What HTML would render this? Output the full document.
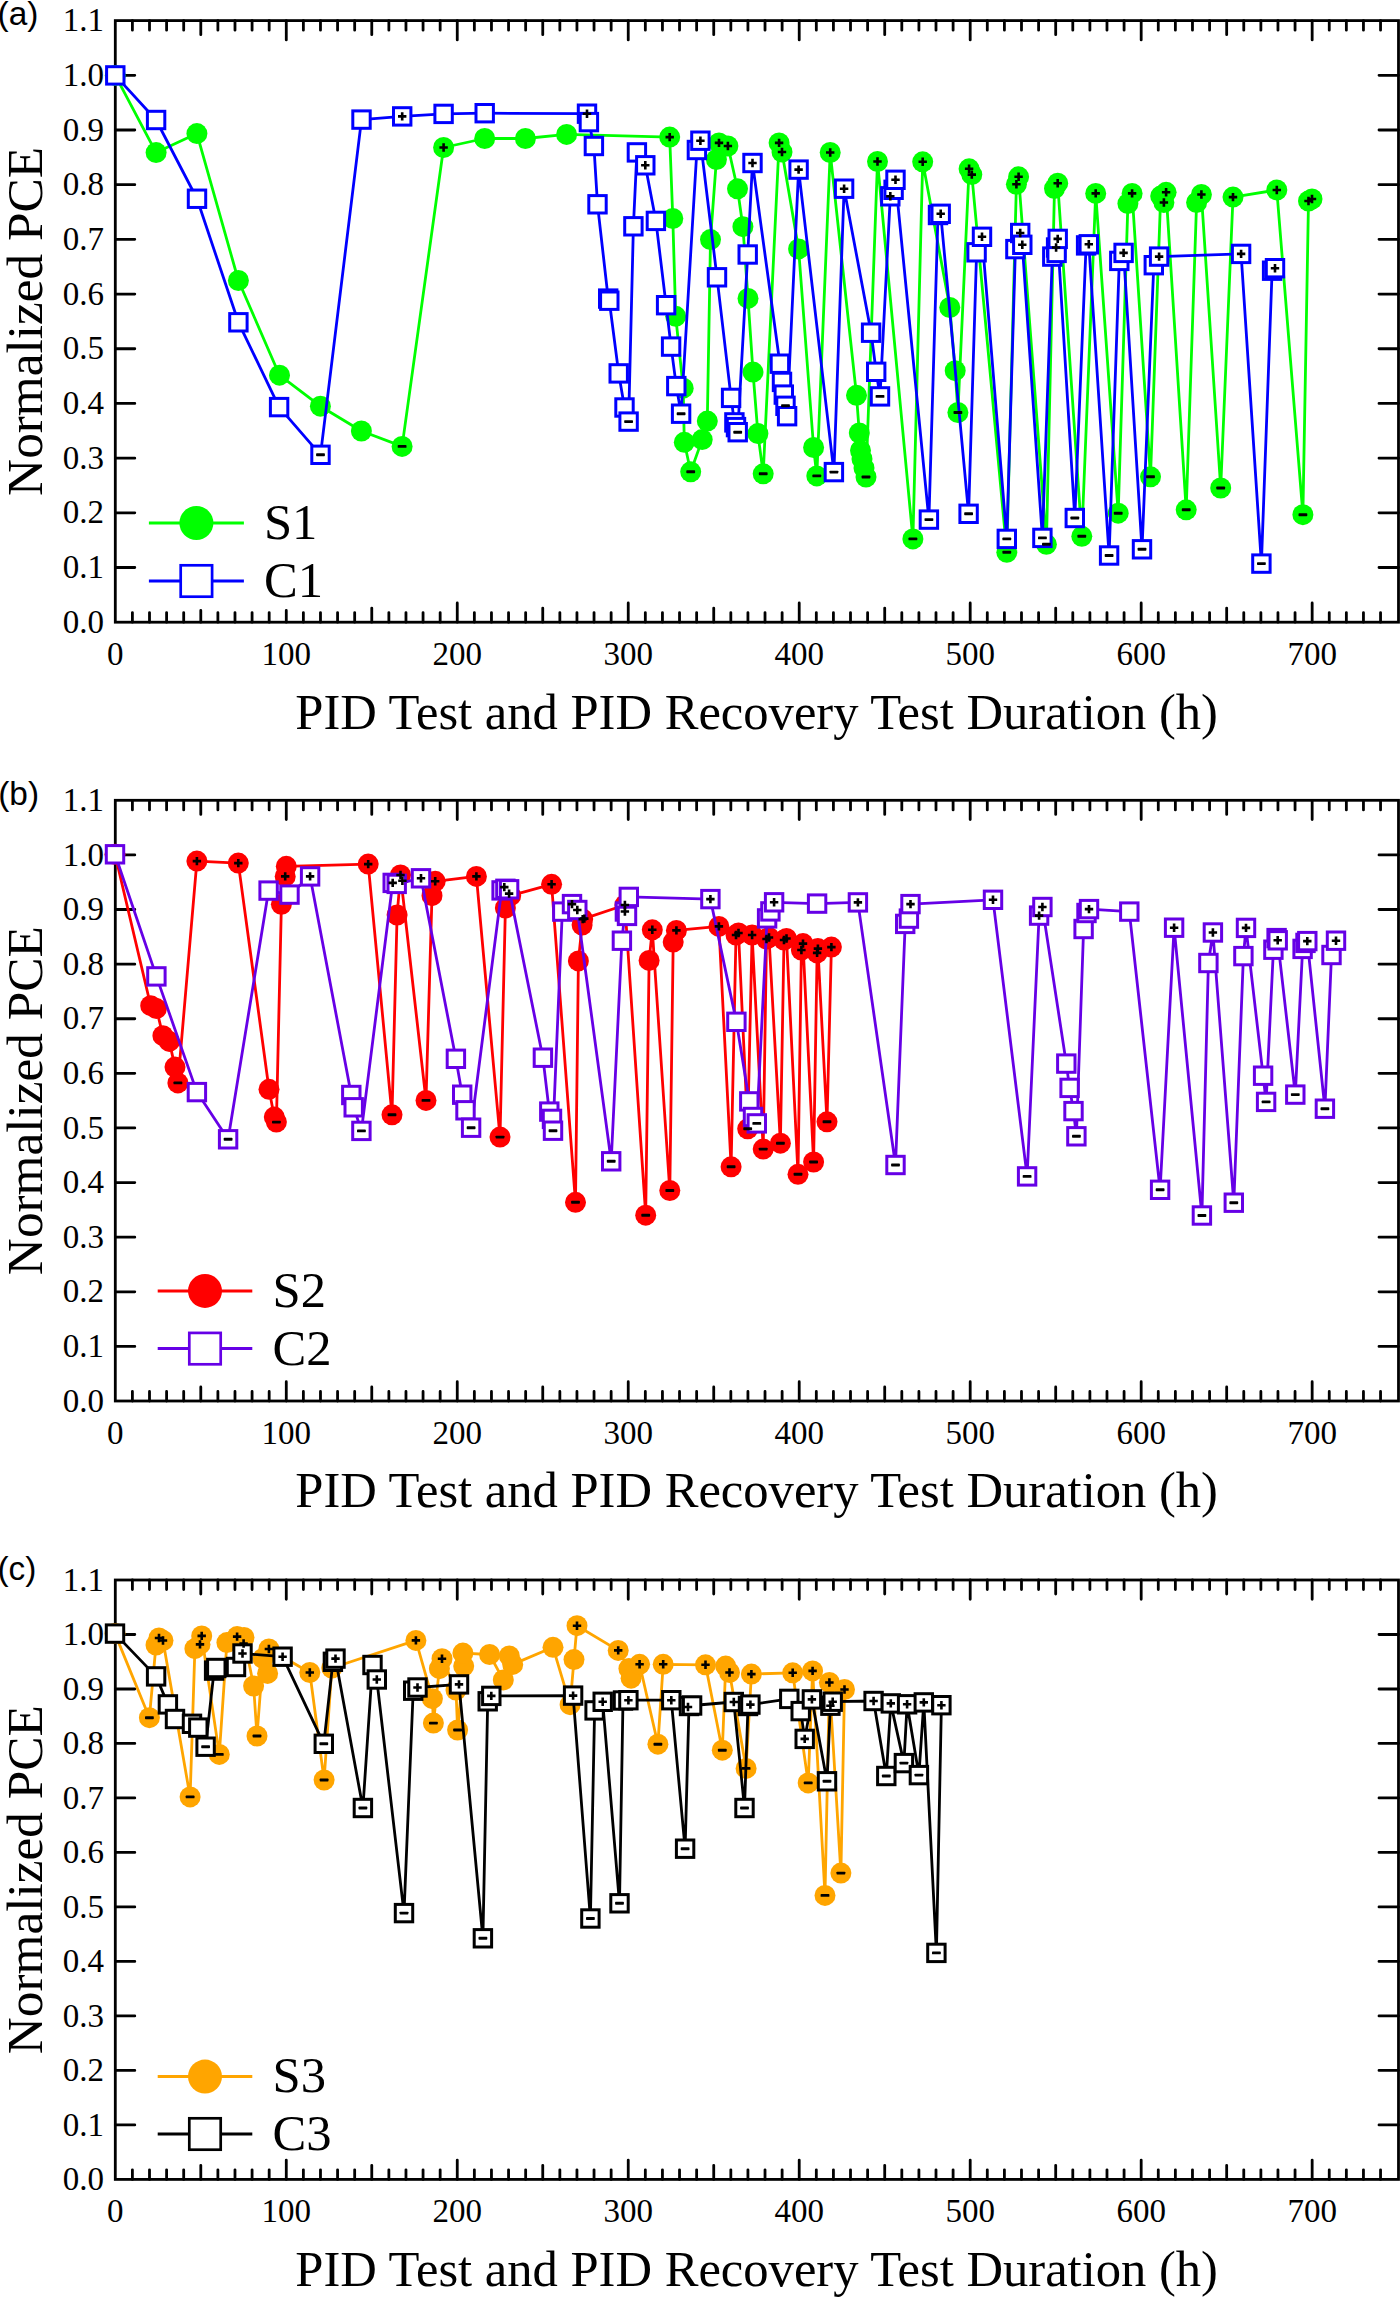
<!DOCTYPE html><html><head><meta charset="utf-8"><style>html,body{margin:0;padding:0;background:#fff;width:1400px;height:2298px;overflow:hidden}svg{display:block}.sf{font-family:"Liberation Serif",serif}.ss{font-family:"Liberation Sans",sans-serif}</style></head><body>
<svg xmlns="http://www.w3.org/2000/svg" width="1400" height="2298" viewBox="0 0 1400 2298">
<rect width="1400" height="2298" fill="#fff"/>
<path d="M132.4 20.6V30.2M132.4 622.2V612.6M149.5 20.6V30.2M149.5 622.2V612.6M166.59 20.6V30.2M166.59 622.2V612.6M183.69 20.6V30.2M183.69 622.2V612.6M200.79 20.6V34.7M200.79 622.2V610.4M217.89 20.6V30.2M217.89 622.2V612.6M234.99 20.6V30.2M234.99 622.2V612.6M252.08 20.6V30.2M252.08 622.2V612.6M269.18 20.6V30.2M269.18 622.2V612.6M286.28 20.6V39.9M286.28 622.2V610.4M303.38 20.6V30.2M303.38 622.2V612.6M320.48 20.6V30.2M320.48 622.2V612.6M337.57 20.6V30.2M337.57 622.2V612.6M354.67 20.6V30.2M354.67 622.2V612.6M371.77 20.6V34.7M371.77 622.2V608.1M388.87 20.6V30.2M388.87 622.2V612.6M405.97 20.6V30.2M405.97 622.2V612.6M423.06 20.6V30.2M423.06 622.2V612.6M440.16 20.6V30.2M440.16 622.2V612.6M457.26 20.6V39.9M457.26 622.2V602.9M474.36 20.6V30.2M474.36 622.2V612.6M491.46 20.6V30.2M491.46 622.2V612.6M508.55 20.6V30.2M508.55 622.2V612.6M525.65 20.6V30.2M525.65 622.2V612.6M542.75 20.6V34.7M542.75 622.2V608.1M559.85 20.6V30.2M559.85 622.2V612.6M576.95 20.6V30.2M576.95 622.2V612.6M594.04 20.6V30.2M594.04 622.2V612.6M611.14 20.6V30.2M611.14 622.2V612.6M628.24 20.6V39.9M628.24 622.2V602.9M645.34 20.6V30.2M645.34 622.2V612.6M662.44 20.6V30.2M662.44 622.2V612.6M679.53 20.6V30.2M679.53 622.2V612.6M696.63 20.6V30.2M696.63 622.2V612.6M713.73 20.6V34.7M713.73 622.2V608.1M730.83 20.6V30.2M730.83 622.2V612.6M747.93 20.6V30.2M747.93 622.2V612.6M765.02 20.6V30.2M765.02 622.2V612.6M782.12 20.6V30.2M782.12 622.2V612.6M799.22 20.6V39.9M799.22 622.2V602.9M816.32 20.6V30.2M816.32 622.2V612.6M833.42 20.6V30.2M833.42 622.2V612.6M850.51 20.6V30.2M850.51 622.2V612.6M867.61 20.6V30.2M867.61 622.2V612.6M884.71 20.6V34.7M884.71 622.2V608.1M901.81 20.6V30.2M901.81 622.2V612.6M918.91 20.6V30.2M918.91 622.2V612.6M936 20.6V30.2M936 622.2V612.6M953.1 20.6V30.2M953.1 622.2V612.6M970.2 20.6V39.9M970.2 622.2V602.9M987.3 20.6V30.2M987.3 622.2V612.6M1004.4 20.6V30.2M1004.4 622.2V612.6M1021.49 20.6V30.2M1021.49 622.2V612.6M1038.59 20.6V30.2M1038.59 622.2V612.6M1055.69 20.6V34.7M1055.69 622.2V608.1M1072.79 20.6V30.2M1072.79 622.2V612.6M1089.89 20.6V30.2M1089.89 622.2V612.6M1106.98 20.6V30.2M1106.98 622.2V612.6M1124.08 20.6V30.2M1124.08 622.2V612.6M1141.18 20.6V39.9M1141.18 622.2V602.9M1158.28 20.6V30.2M1158.28 622.2V612.6M1175.38 20.6V30.2M1175.38 622.2V612.6M1192.47 20.6V30.2M1192.47 622.2V612.6M1209.57 20.6V30.2M1209.57 622.2V612.6M1226.67 20.6V34.7M1226.67 622.2V608.1M1243.77 20.6V30.2M1243.77 622.2V612.6M1260.87 20.6V30.2M1260.87 622.2V612.6M1277.96 20.6V30.2M1277.96 622.2V612.6M1295.06 20.6V30.2M1295.06 622.2V612.6M1312.16 20.6V39.9M1312.16 622.2V602.9M1329.26 20.6V30.2M1329.26 622.2V612.6M1346.36 20.6V30.2M1346.36 622.2V612.6M1363.45 20.6V30.2M1363.45 622.2V612.6M1380.55 20.6V30.2M1380.55 622.2V612.6M115.3 567.51H134.8M1398.5 567.51H1379M115.3 512.82H134.8M1398.5 512.82H1379M115.3 458.13H134.8M1398.5 458.13H1379M115.3 403.44H134.8M1398.5 403.44H1379M115.3 348.75H134.8M1398.5 348.75H1379M115.3 294.05H134.8M1398.5 294.05H1379M115.3 239.36H134.8M1398.5 239.36H1379M115.3 184.67H134.8M1398.5 184.67H1379M115.3 129.98H134.8M1398.5 129.98H1379M115.3 75.29H134.8M1398.5 75.29H1379" stroke="#000" stroke-width="2.8" stroke-linecap="round" fill="none"/>
<rect x="115.3" y="20.6" width="1283.2" height="601.6" fill="none" stroke="#000" stroke-width="2.8"/>
<path d="M115.3 75.4 L156.1 152.6 L196.9 133.6 L238.4 280.5 L279.5 375.2 L320.4 406.2 L361.4 431 L402.1 446.4 L443.6 147.5 L484.7 138.5 L525.4 138.5 L566.6 134.4 L669.7 137.1 L672.8 218.5 L675.7 316.3 L683.2 388.2 L684.3 442.3 L690.7 471.8 L702.2 439.6 L707.3 421.1 L710.5 239.6 L716.4 159.6 L719 142.9 L727.9 146 L737.5 188.8 L742.9 226.7 L748 298.4 L753 372.1 L757.9 433.6 L763.2 473.8 L779.1 142.9 L782 152 L798.6 248.9 L813.6 447.5 L816.8 475.9 L830.2 152.5 L856.5 395.3 L859.3 433 L860.5 450.5 L862 459 L864 468 L866 477 L877.5 161.5 L912.9 538.9 L922.7 161.8 L949.8 307.5 L955.2 370.7 L957.9 412.5 L969.1 168.8 L971.8 174.6 L1006.8 552.3 L1016.4 184.3 L1018.6 176.8 L1046.4 544.3 L1054.5 188.6 L1057.7 183.2 L1081.8 536.3 L1095.7 193.4 L1118.2 513.2 L1127.9 203.6 L1132.1 193.4 L1150.5 476.8 L1160.7 196.1 L1163.9 202.5 L1166.1 192.3 L1186.2 509.8 L1196.6 202.5 L1201.4 194.5 L1220.7 488 L1233 197.1 L1276.8 190 L1302.9 514.7 L1308.5 201 L1312 199" fill="none" stroke="#00FF00" stroke-width="2.8" stroke-linejoin="round" stroke-linecap="round"/>
<g fill="#00FF00">
<circle cx="115.3" cy="75.4" r="10.5"/>
<circle cx="156.1" cy="152.6" r="10.5"/>
<circle cx="196.9" cy="133.6" r="10.5"/>
<circle cx="238.4" cy="280.5" r="10.5"/>
<circle cx="279.5" cy="375.2" r="10.5"/>
<circle cx="320.4" cy="406.2" r="10.5"/>
<circle cx="361.4" cy="431" r="10.5"/>
<circle cx="402.1" cy="446.4" r="10.5"/>
<circle cx="443.6" cy="147.5" r="10.5"/>
<circle cx="484.7" cy="138.5" r="10.5"/>
<circle cx="525.4" cy="138.5" r="10.5"/>
<circle cx="566.6" cy="134.4" r="10.5"/>
<circle cx="669.7" cy="137.1" r="10.5"/>
<circle cx="672.8" cy="218.5" r="10.5"/>
<circle cx="675.7" cy="316.3" r="10.5"/>
<circle cx="683.2" cy="388.2" r="10.5"/>
<circle cx="684.3" cy="442.3" r="10.5"/>
<circle cx="690.7" cy="471.8" r="10.5"/>
<circle cx="702.2" cy="439.6" r="10.5"/>
<circle cx="707.3" cy="421.1" r="10.5"/>
<circle cx="710.5" cy="239.6" r="10.5"/>
<circle cx="716.4" cy="159.6" r="10.5"/>
<circle cx="719" cy="142.9" r="10.5"/>
<circle cx="727.9" cy="146" r="10.5"/>
<circle cx="737.5" cy="188.8" r="10.5"/>
<circle cx="742.9" cy="226.7" r="10.5"/>
<circle cx="748" cy="298.4" r="10.5"/>
<circle cx="753" cy="372.1" r="10.5"/>
<circle cx="757.9" cy="433.6" r="10.5"/>
<circle cx="763.2" cy="473.8" r="10.5"/>
<circle cx="779.1" cy="142.9" r="10.5"/>
<circle cx="782" cy="152" r="10.5"/>
<circle cx="798.6" cy="248.9" r="10.5"/>
<circle cx="813.6" cy="447.5" r="10.5"/>
<circle cx="816.8" cy="475.9" r="10.5"/>
<circle cx="830.2" cy="152.5" r="10.5"/>
<circle cx="856.5" cy="395.3" r="10.5"/>
<circle cx="859.3" cy="433" r="10.5"/>
<circle cx="860.5" cy="450.5" r="10.5"/>
<circle cx="862" cy="459" r="10.5"/>
<circle cx="864" cy="468" r="10.5"/>
<circle cx="866" cy="477" r="10.5"/>
<circle cx="877.5" cy="161.5" r="10.5"/>
<circle cx="912.9" cy="538.9" r="10.5"/>
<circle cx="922.7" cy="161.8" r="10.5"/>
<circle cx="949.8" cy="307.5" r="10.5"/>
<circle cx="955.2" cy="370.7" r="10.5"/>
<circle cx="957.9" cy="412.5" r="10.5"/>
<circle cx="969.1" cy="168.8" r="10.5"/>
<circle cx="971.8" cy="174.6" r="10.5"/>
<circle cx="1006.8" cy="552.3" r="10.5"/>
<circle cx="1016.4" cy="184.3" r="10.5"/>
<circle cx="1018.6" cy="176.8" r="10.5"/>
<circle cx="1046.4" cy="544.3" r="10.5"/>
<circle cx="1054.5" cy="188.6" r="10.5"/>
<circle cx="1057.7" cy="183.2" r="10.5"/>
<circle cx="1081.8" cy="536.3" r="10.5"/>
<circle cx="1095.7" cy="193.4" r="10.5"/>
<circle cx="1118.2" cy="513.2" r="10.5"/>
<circle cx="1127.9" cy="203.6" r="10.5"/>
<circle cx="1132.1" cy="193.4" r="10.5"/>
<circle cx="1150.5" cy="476.8" r="10.5"/>
<circle cx="1160.7" cy="196.1" r="10.5"/>
<circle cx="1163.9" cy="202.5" r="10.5"/>
<circle cx="1166.1" cy="192.3" r="10.5"/>
<circle cx="1186.2" cy="509.8" r="10.5"/>
<circle cx="1196.6" cy="202.5" r="10.5"/>
<circle cx="1201.4" cy="194.5" r="10.5"/>
<circle cx="1220.7" cy="488" r="10.5"/>
<circle cx="1233" cy="197.1" r="10.5"/>
<circle cx="1276.8" cy="190" r="10.5"/>
<circle cx="1302.9" cy="514.7" r="10.5"/>
<circle cx="1308.5" cy="201" r="10.5"/>
<circle cx="1312" cy="199" r="10.5"/>
</g>
<path d="M115.3 75.4 L156.1 120 L197 198.75 L238.4 322.3 L279.1 407.1 L320.5 454.8 L361.5 119.6 L402.2 116.4 L443.6 113.9 L484.7 113.2 L587 113.7 L588.9 122.1 L593.9 146 L597.5 204.3 L608.2 298.6 L609.3 300.7 L618.7 373.4 L624.5 407.5 L628.6 421.6 L633.4 226.3 L636.9 152.4 L645.3 165.3 L655.9 220.9 L666.1 305.2 L671.1 346.6 L676.3 386.1 L681.1 413.7 L696.9 150 L700.4 140.7 L717 277.3 L731.1 397.9 L734.4 422.4 L736 427.1 L737.7 432.2 L747.7 254.5 L752.5 163 L779.9 363.7 L782 381.9 L783.8 394.6 L785.5 405.8 L787.1 416.2 L798.6 169.6 L833.9 472.1 L844.1 188.7 L871.1 332.7 L876.2 371.8 L880 396.4 L890.3 196.3 L893.6 189.8 L895.5 179.8 L928.9 519.6 L938 215 L940.7 213.8 L968.6 513.8 L976.6 252.3 L982 236.8 L1006.8 538.9 L1015.4 249.1 L1020.2 233 L1022.3 244.8 L1042.4 537.9 L1052.3 256.6 L1056.1 247.5 L1056.6 252.9 L1057.7 238.9 L1074.8 518 L1086.1 245.4 L1088.8 244.3 L1109.1 555.5 L1119.3 260.9 L1123.6 252.9 L1142 549.3 L1153.8 265.2 L1159.1 256.6 L1241.1 253.9 L1261.4 563.6 L1272.1 270.7 L1275 268.2" fill="none" stroke="#0000FF" stroke-width="2.8" stroke-linejoin="round" stroke-linecap="round"/>
<g fill="#fff" stroke="#0000FF" stroke-width="3.0">
<rect x="106.6" y="66.7" width="17.4" height="17.4"/>
<rect x="147.4" y="111.3" width="17.4" height="17.4"/>
<rect x="188.3" y="190.05" width="17.4" height="17.4"/>
<rect x="229.7" y="313.6" width="17.4" height="17.4"/>
<rect x="270.4" y="398.4" width="17.4" height="17.4"/>
<rect x="311.8" y="446.1" width="17.4" height="17.4"/>
<rect x="352.8" y="110.9" width="17.4" height="17.4"/>
<rect x="393.5" y="107.7" width="17.4" height="17.4"/>
<rect x="434.9" y="105.2" width="17.4" height="17.4"/>
<rect x="476" y="104.5" width="17.4" height="17.4"/>
<rect x="578.3" y="105" width="17.4" height="17.4"/>
<rect x="580.2" y="113.4" width="17.4" height="17.4"/>
<rect x="585.2" y="137.3" width="17.4" height="17.4"/>
<rect x="588.8" y="195.6" width="17.4" height="17.4"/>
<rect x="599.5" y="289.9" width="17.4" height="17.4"/>
<rect x="600.6" y="292" width="17.4" height="17.4"/>
<rect x="610" y="364.7" width="17.4" height="17.4"/>
<rect x="615.8" y="398.8" width="17.4" height="17.4"/>
<rect x="619.9" y="412.9" width="17.4" height="17.4"/>
<rect x="624.7" y="217.6" width="17.4" height="17.4"/>
<rect x="628.2" y="143.7" width="17.4" height="17.4"/>
<rect x="636.6" y="156.6" width="17.4" height="17.4"/>
<rect x="647.2" y="212.2" width="17.4" height="17.4"/>
<rect x="657.4" y="296.5" width="17.4" height="17.4"/>
<rect x="662.4" y="337.9" width="17.4" height="17.4"/>
<rect x="667.6" y="377.4" width="17.4" height="17.4"/>
<rect x="672.4" y="405" width="17.4" height="17.4"/>
<rect x="688.2" y="141.3" width="17.4" height="17.4"/>
<rect x="691.7" y="132" width="17.4" height="17.4"/>
<rect x="708.3" y="268.6" width="17.4" height="17.4"/>
<rect x="722.4" y="389.2" width="17.4" height="17.4"/>
<rect x="725.7" y="413.7" width="17.4" height="17.4"/>
<rect x="727.3" y="418.4" width="17.4" height="17.4"/>
<rect x="729" y="423.5" width="17.4" height="17.4"/>
<rect x="739" y="245.8" width="17.4" height="17.4"/>
<rect x="743.8" y="154.3" width="17.4" height="17.4"/>
<rect x="771.2" y="355" width="17.4" height="17.4"/>
<rect x="773.3" y="373.2" width="17.4" height="17.4"/>
<rect x="775.1" y="385.9" width="17.4" height="17.4"/>
<rect x="776.8" y="397.1" width="17.4" height="17.4"/>
<rect x="778.4" y="407.5" width="17.4" height="17.4"/>
<rect x="789.9" y="160.9" width="17.4" height="17.4"/>
<rect x="825.2" y="463.4" width="17.4" height="17.4"/>
<rect x="835.4" y="180" width="17.4" height="17.4"/>
<rect x="862.4" y="324" width="17.4" height="17.4"/>
<rect x="867.5" y="363.1" width="17.4" height="17.4"/>
<rect x="871.3" y="387.7" width="17.4" height="17.4"/>
<rect x="881.6" y="187.6" width="17.4" height="17.4"/>
<rect x="884.9" y="181.1" width="17.4" height="17.4"/>
<rect x="886.8" y="171.1" width="17.4" height="17.4"/>
<rect x="920.2" y="510.9" width="17.4" height="17.4"/>
<rect x="929.3" y="206.3" width="17.4" height="17.4"/>
<rect x="932" y="205.1" width="17.4" height="17.4"/>
<rect x="959.9" y="505.1" width="17.4" height="17.4"/>
<rect x="967.9" y="243.6" width="17.4" height="17.4"/>
<rect x="973.3" y="228.1" width="17.4" height="17.4"/>
<rect x="998.1" y="530.2" width="17.4" height="17.4"/>
<rect x="1006.7" y="240.4" width="17.4" height="17.4"/>
<rect x="1011.5" y="224.3" width="17.4" height="17.4"/>
<rect x="1013.6" y="236.1" width="17.4" height="17.4"/>
<rect x="1033.7" y="529.2" width="17.4" height="17.4"/>
<rect x="1043.6" y="247.9" width="17.4" height="17.4"/>
<rect x="1047.4" y="238.8" width="17.4" height="17.4"/>
<rect x="1047.9" y="244.2" width="17.4" height="17.4"/>
<rect x="1049" y="230.2" width="17.4" height="17.4"/>
<rect x="1066.1" y="509.3" width="17.4" height="17.4"/>
<rect x="1077.4" y="236.7" width="17.4" height="17.4"/>
<rect x="1080.1" y="235.6" width="17.4" height="17.4"/>
<rect x="1100.4" y="546.8" width="17.4" height="17.4"/>
<rect x="1110.6" y="252.2" width="17.4" height="17.4"/>
<rect x="1114.9" y="244.2" width="17.4" height="17.4"/>
<rect x="1133.3" y="540.6" width="17.4" height="17.4"/>
<rect x="1145.1" y="256.5" width="17.4" height="17.4"/>
<rect x="1150.4" y="247.9" width="17.4" height="17.4"/>
<rect x="1232.4" y="245.2" width="17.4" height="17.4"/>
<rect x="1252.7" y="554.9" width="17.4" height="17.4"/>
<rect x="1263.4" y="262" width="17.4" height="17.4"/>
<rect x="1266.3" y="259.5" width="17.4" height="17.4"/>
</g>
<g fill="#000">
<rect x="397.7" y="444.95" width="8.8" height="2.9" rx="0.7"/>
<path d="M439.4 146.2h8.4v2.6h-8.4zM442.3 143.3h2.6v8.4h-2.6z"/>
<path d="M665.5 135.8h8.4v2.6h-8.4zM668.4 132.9h2.6v8.4h-2.6z"/>
<rect x="686.3" y="470.35" width="8.8" height="2.9" rx="0.7"/>
<path d="M714.8 141.6h8.4v2.6h-8.4zM717.7 138.7h2.6v8.4h-2.6z"/>
<path d="M723.7 144.7h8.4v2.6h-8.4zM726.6 141.8h2.6v8.4h-2.6z"/>
<rect x="758.8" y="472.35" width="8.8" height="2.9" rx="0.7"/>
<path d="M774.9 141.6h8.4v2.6h-8.4zM777.8 138.7h2.6v8.4h-2.6z"/>
<path d="M777.8 150.7h8.4v2.6h-8.4zM780.7 147.8h2.6v8.4h-2.6z"/>
<rect x="812.4" y="474.45" width="8.8" height="2.9" rx="0.7"/>
<path d="M826 151.2h8.4v2.6h-8.4zM828.9 148.3h2.6v8.4h-2.6z"/>
<rect x="861.6" y="475.55" width="8.8" height="2.9" rx="0.7"/>
<path d="M873.3 160.2h8.4v2.6h-8.4zM876.2 157.3h2.6v8.4h-2.6z"/>
<rect x="908.5" y="537.45" width="8.8" height="2.9" rx="0.7"/>
<path d="M918.5 160.5h8.4v2.6h-8.4zM921.4 157.6h2.6v8.4h-2.6z"/>
<rect x="953.5" y="411.05" width="8.8" height="2.9" rx="0.7"/>
<path d="M964.9 167.5h8.4v2.6h-8.4zM967.8 164.6h2.6v8.4h-2.6z"/>
<path d="M967.6 173.3h8.4v2.6h-8.4zM970.5 170.4h2.6v8.4h-2.6z"/>
<rect x="1002.4" y="550.85" width="8.8" height="2.9" rx="0.7"/>
<path d="M1012.2 183h8.4v2.6h-8.4zM1015.1 180.1h2.6v8.4h-2.6z"/>
<path d="M1014.4 175.5h8.4v2.6h-8.4zM1017.3 172.6h2.6v8.4h-2.6z"/>
<rect x="1042" y="542.85" width="8.8" height="2.9" rx="0.7"/>
<path d="M1053.5 181.9h8.4v2.6h-8.4zM1056.4 179h2.6v8.4h-2.6z"/>
<rect x="1077.4" y="534.85" width="8.8" height="2.9" rx="0.7"/>
<path d="M1091.5 192.1h8.4v2.6h-8.4zM1094.4 189.2h2.6v8.4h-2.6z"/>
<rect x="1113.8" y="511.75" width="8.8" height="2.9" rx="0.7"/>
<path d="M1127.9 192.1h8.4v2.6h-8.4zM1130.8 189.2h2.6v8.4h-2.6z"/>
<rect x="1146.1" y="475.35" width="8.8" height="2.9" rx="0.7"/>
<path d="M1159.7 201.2h8.4v2.6h-8.4zM1162.6 198.3h2.6v8.4h-2.6z"/>
<path d="M1161.9 191h8.4v2.6h-8.4zM1164.8 188.1h2.6v8.4h-2.6z"/>
<rect x="1181.8" y="508.35" width="8.8" height="2.9" rx="0.7"/>
<path d="M1197.2 193.2h8.4v2.6h-8.4zM1200.1 190.3h2.6v8.4h-2.6z"/>
<rect x="1216.3" y="486.55" width="8.8" height="2.9" rx="0.7"/>
<path d="M1228.8 195.8h8.4v2.6h-8.4zM1231.7 192.9h2.6v8.4h-2.6z"/>
<path d="M1272.6 188.7h8.4v2.6h-8.4zM1275.5 185.8h2.6v8.4h-2.6z"/>
<rect x="1298.5" y="513.25" width="8.8" height="2.9" rx="0.7"/>
<path d="M1304.3 199.7h8.4v2.6h-8.4zM1307.2 196.8h2.6v8.4h-2.6z"/>
<path d="M1307.8 197.7h8.4v2.6h-8.4zM1310.7 194.8h2.6v8.4h-2.6z"/>
<rect x="316.1" y="453.35" width="8.8" height="2.9" rx="0.7"/>
<path d="M398 115.1h8.4v2.6h-8.4zM400.9 112.2h2.6v8.4h-2.6z"/>
<path d="M582.8 112.4h8.4v2.6h-8.4zM585.7 109.5h2.6v8.4h-2.6z"/>
<rect x="624.2" y="420.15" width="8.8" height="2.9" rx="0.7"/>
<path d="M641.1 164h8.4v2.6h-8.4zM644 161.1h2.6v8.4h-2.6z"/>
<rect x="676.7" y="412.25" width="8.8" height="2.9" rx="0.7"/>
<path d="M696.2 139.4h8.4v2.6h-8.4zM699.1 136.5h2.6v8.4h-2.6z"/>
<rect x="733.3" y="430.75" width="8.8" height="2.9" rx="0.7"/>
<path d="M748.3 161.7h8.4v2.6h-8.4zM751.2 158.8h2.6v8.4h-2.6z"/>
<rect x="781.1" y="404.35" width="8.8" height="2.9" rx="0.7"/>
<path d="M794.4 168.3h8.4v2.6h-8.4zM797.3 165.4h2.6v8.4h-2.6z"/>
<rect x="829.5" y="470.65" width="8.8" height="2.9" rx="0.7"/>
<path d="M839.9 187.4h8.4v2.6h-8.4zM842.8 184.5h2.6v8.4h-2.6z"/>
<rect x="875.6" y="394.95" width="8.8" height="2.9" rx="0.7"/>
<path d="M886.1 195h8.4v2.6h-8.4zM889 192.1h2.6v8.4h-2.6z"/>
<path d="M891.3 178.5h8.4v2.6h-8.4zM894.2 175.6h2.6v8.4h-2.6z"/>
<rect x="924.5" y="518.15" width="8.8" height="2.9" rx="0.7"/>
<path d="M936.5 212.5h8.4v2.6h-8.4zM939.4 209.6h2.6v8.4h-2.6z"/>
<rect x="964.2" y="512.35" width="8.8" height="2.9" rx="0.7"/>
<path d="M977.8 235.5h8.4v2.6h-8.4zM980.7 232.6h2.6v8.4h-2.6z"/>
<rect x="1002.4" y="537.45" width="8.8" height="2.9" rx="0.7"/>
<path d="M1016 231.7h8.4v2.6h-8.4zM1018.9 228.8h2.6v8.4h-2.6z"/>
<path d="M1018.1 243.5h8.4v2.6h-8.4zM1021 240.6h2.6v8.4h-2.6z"/>
<rect x="1038" y="536.45" width="8.8" height="2.9" rx="0.7"/>
<path d="M1051.9 246.2h8.4v2.6h-8.4zM1054.8 243.3h2.6v8.4h-2.6z"/>
<path d="M1053.5 237.6h8.4v2.6h-8.4zM1056.4 234.7h2.6v8.4h-2.6z"/>
<rect x="1070.4" y="516.55" width="8.8" height="2.9" rx="0.7"/>
<path d="M1084.6 243h8.4v2.6h-8.4zM1087.5 240.1h2.6v8.4h-2.6z"/>
<rect x="1104.7" y="554.05" width="8.8" height="2.9" rx="0.7"/>
<path d="M1119.4 251.6h8.4v2.6h-8.4zM1122.3 248.7h2.6v8.4h-2.6z"/>
<rect x="1137.6" y="547.85" width="8.8" height="2.9" rx="0.7"/>
<path d="M1154.9 255.3h8.4v2.6h-8.4zM1157.8 252.4h2.6v8.4h-2.6z"/>
<path d="M1236.9 252.6h8.4v2.6h-8.4zM1239.8 249.7h2.6v8.4h-2.6z"/>
<rect x="1257" y="562.15" width="8.8" height="2.9" rx="0.7"/>
<path d="M1270.8 266.9h8.4v2.6h-8.4zM1273.7 264h2.6v8.4h-2.6z"/>
</g>
<path d="M148.9 523H243.9" stroke="#00FF00" stroke-width="3" fill="none"/>
<path d="M148.9 581H243.9" stroke="#0000FF" stroke-width="3" fill="none"/>
<circle cx="196.4" cy="523" r="17" fill="#00FF00"/>
<rect x="180.7" y="565.3" width="31.4" height="31.4" fill="#fff" stroke="#0000FF" stroke-width="2.7"/>
<text class="sf" x="263.9" y="539.2" font-size="50.6">S1</text>
<text class="sf" x="263.9" y="596.5" font-size="50.6">C1</text>
<g class="sf" font-size="33" text-anchor="end">
<text x="104.1" y="632.8">0.0</text>
<text x="104.1" y="578.11">0.1</text>
<text x="104.1" y="523.42">0.2</text>
<text x="104.1" y="468.73">0.3</text>
<text x="104.1" y="414.04">0.4</text>
<text x="104.1" y="359.35">0.5</text>
<text x="104.1" y="304.65">0.6</text>
<text x="104.1" y="249.96">0.7</text>
<text x="104.1" y="195.27">0.8</text>
<text x="104.1" y="140.58">0.9</text>
<text x="104.1" y="85.89">1.0</text>
<text x="104.1" y="31.2">1.1</text>
</g>
<g class="sf" font-size="33" text-anchor="middle">
<text x="115.3" y="665">0</text>
<text x="286.28" y="665">100</text>
<text x="457.26" y="665">200</text>
<text x="628.24" y="665">300</text>
<text x="799.22" y="665">400</text>
<text x="970.2" y="665">500</text>
<text x="1141.18" y="665">600</text>
<text x="1312.16" y="665">700</text>
</g>
<text class="sf" x="295.3" y="728.5" font-size="50.6">PID Test and PID Recovery Test Duration (h)</text>
<text class="sf" font-size="51.3" text-anchor="middle" transform="translate(41.7 321.4) rotate(-90)">Normalized PCE</text>
<text class="ss" x="-2.4" y="25.2" font-size="33.4">(a)</text>
<path d="M132.4 800.3V809.9M132.4 1401V1391.4M149.5 800.3V809.9M149.5 1401V1391.4M166.59 800.3V809.9M166.59 1401V1391.4M183.69 800.3V809.9M183.69 1401V1391.4M200.79 800.3V814.4M200.79 1401V1386.9M217.89 800.3V809.9M217.89 1401V1391.4M234.99 800.3V809.9M234.99 1401V1391.4M252.08 800.3V809.9M252.08 1401V1391.4M269.18 800.3V809.9M269.18 1401V1391.4M286.28 800.3V819.6M286.28 1401V1381.7M303.38 800.3V809.9M303.38 1401V1391.4M320.48 800.3V809.9M320.48 1401V1391.4M337.57 800.3V809.9M337.57 1401V1391.4M354.67 800.3V809.9M354.67 1401V1391.4M371.77 800.3V814.4M371.77 1401V1386.9M388.87 800.3V809.9M388.87 1401V1391.4M405.97 800.3V809.9M405.97 1401V1391.4M423.06 800.3V809.9M423.06 1401V1391.4M440.16 800.3V809.9M440.16 1401V1391.4M457.26 800.3V819.6M457.26 1401V1381.7M474.36 800.3V809.9M474.36 1401V1391.4M491.46 800.3V809.9M491.46 1401V1391.4M508.55 800.3V809.9M508.55 1401V1391.4M525.65 800.3V809.9M525.65 1401V1391.4M542.75 800.3V814.4M542.75 1401V1386.9M559.85 800.3V809.9M559.85 1401V1391.4M576.95 800.3V809.9M576.95 1401V1391.4M594.04 800.3V809.9M594.04 1401V1391.4M611.14 800.3V809.9M611.14 1401V1391.4M628.24 800.3V819.6M628.24 1401V1381.7M645.34 800.3V809.9M645.34 1401V1391.4M662.44 800.3V809.9M662.44 1401V1391.4M679.53 800.3V809.9M679.53 1401V1391.4M696.63 800.3V809.9M696.63 1401V1391.4M713.73 800.3V814.4M713.73 1401V1386.9M730.83 800.3V809.9M730.83 1401V1391.4M747.93 800.3V809.9M747.93 1401V1391.4M765.02 800.3V809.9M765.02 1401V1391.4M782.12 800.3V809.9M782.12 1401V1391.4M799.22 800.3V819.6M799.22 1401V1381.7M816.32 800.3V809.9M816.32 1401V1391.4M833.42 800.3V809.9M833.42 1401V1391.4M850.51 800.3V809.9M850.51 1401V1391.4M867.61 800.3V809.9M867.61 1401V1391.4M884.71 800.3V814.4M884.71 1401V1386.9M901.81 800.3V809.9M901.81 1401V1391.4M918.91 800.3V809.9M918.91 1401V1391.4M936 800.3V809.9M936 1401V1391.4M953.1 800.3V809.9M953.1 1401V1391.4M970.2 800.3V819.6M970.2 1401V1381.7M987.3 800.3V809.9M987.3 1401V1391.4M1004.4 800.3V809.9M1004.4 1401V1391.4M1021.49 800.3V809.9M1021.49 1401V1391.4M1038.59 800.3V809.9M1038.59 1401V1391.4M1055.69 800.3V814.4M1055.69 1401V1386.9M1072.79 800.3V809.9M1072.79 1401V1391.4M1089.89 800.3V809.9M1089.89 1401V1391.4M1106.98 800.3V809.9M1106.98 1401V1391.4M1124.08 800.3V809.9M1124.08 1401V1391.4M1141.18 800.3V819.6M1141.18 1401V1381.7M1158.28 800.3V809.9M1158.28 1401V1391.4M1175.38 800.3V809.9M1175.38 1401V1391.4M1192.47 800.3V809.9M1192.47 1401V1391.4M1209.57 800.3V809.9M1209.57 1401V1391.4M1226.67 800.3V814.4M1226.67 1401V1386.9M1243.77 800.3V809.9M1243.77 1401V1391.4M1260.87 800.3V809.9M1260.87 1401V1391.4M1277.96 800.3V809.9M1277.96 1401V1391.4M1295.06 800.3V809.9M1295.06 1401V1391.4M1312.16 800.3V819.6M1312.16 1401V1381.7M1329.26 800.3V809.9M1329.26 1401V1391.4M1346.36 800.3V809.9M1346.36 1401V1391.4M1363.45 800.3V809.9M1363.45 1401V1391.4M1380.55 800.3V809.9M1380.55 1401V1391.4M115.3 1346.39H134.8M1398.5 1346.39H1379M115.3 1291.78H134.8M1398.5 1291.78H1379M115.3 1237.17H134.8M1398.5 1237.17H1379M115.3 1182.56H134.8M1398.5 1182.56H1379M115.3 1127.95H134.8M1398.5 1127.95H1379M115.3 1073.35H134.8M1398.5 1073.35H1379M115.3 1018.74H134.8M1398.5 1018.74H1379M115.3 964.13H134.8M1398.5 964.13H1379M115.3 909.52H134.8M1398.5 909.52H1379M115.3 854.91H134.8M1398.5 854.91H1379" stroke="#000" stroke-width="2.8" stroke-linecap="round" fill="none"/>
<rect x="115.3" y="800.3" width="1283.2" height="600.7" fill="none" stroke="#000" stroke-width="2.8"/>
<path d="M115 854.3 L150.7 1005.7 L156.4 1008.6 L162.9 1035.7 L169.3 1041.4 L175 1067.1 L177.9 1082.9 L196.9 861.1 L238.3 863.1 L269 1089.3 L274.3 1117.1 L276.4 1122.1 L281.4 904.3 L285.2 876.4 L286.3 866.3 L368.2 864.1 L392 1114.8 L397.1 915 L400.5 875 L426 1100.4 L432 895.7 L435.2 881.3 L476.4 876.4 L500 1137.1 L505.4 908 L510.7 895.7 L551.6 884.3 L575.5 1202.3 L578.4 960.9 L582.1 925 L582.7 919.1 L624.9 905 L645.7 1215.2 L649.1 960.4 L652.3 929.8 L669.8 1190.5 L673.2 942.1 L676.4 930.4 L718.9 926.4 L731.1 1166.8 L736 935 L738.5 933 L747.7 1128.8 L752.1 935 L763.2 1149.1 L766.5 939 L769 937.5 L780.4 1143.2 L784 940 L786.5 938.5 L798 1174.3 L801.4 950 L803 943.6 L813.6 1162 L817.1 952.9 L817.9 948.6 L827 1121.8 L831.4 947.1" fill="none" stroke="#FF0000" stroke-width="2.8" stroke-linejoin="round" stroke-linecap="round"/>
<g fill="#FF0000">
<circle cx="115" cy="854.3" r="10.5"/>
<circle cx="150.7" cy="1005.7" r="10.5"/>
<circle cx="156.4" cy="1008.6" r="10.5"/>
<circle cx="162.9" cy="1035.7" r="10.5"/>
<circle cx="169.3" cy="1041.4" r="10.5"/>
<circle cx="175" cy="1067.1" r="10.5"/>
<circle cx="177.9" cy="1082.9" r="10.5"/>
<circle cx="196.9" cy="861.1" r="10.5"/>
<circle cx="238.3" cy="863.1" r="10.5"/>
<circle cx="269" cy="1089.3" r="10.5"/>
<circle cx="274.3" cy="1117.1" r="10.5"/>
<circle cx="276.4" cy="1122.1" r="10.5"/>
<circle cx="281.4" cy="904.3" r="10.5"/>
<circle cx="285.2" cy="876.4" r="10.5"/>
<circle cx="286.3" cy="866.3" r="10.5"/>
<circle cx="368.2" cy="864.1" r="10.5"/>
<circle cx="392" cy="1114.8" r="10.5"/>
<circle cx="397.1" cy="915" r="10.5"/>
<circle cx="400.5" cy="875" r="10.5"/>
<circle cx="426" cy="1100.4" r="10.5"/>
<circle cx="432" cy="895.7" r="10.5"/>
<circle cx="435.2" cy="881.3" r="10.5"/>
<circle cx="476.4" cy="876.4" r="10.5"/>
<circle cx="500" cy="1137.1" r="10.5"/>
<circle cx="505.4" cy="908" r="10.5"/>
<circle cx="510.7" cy="895.7" r="10.5"/>
<circle cx="551.6" cy="884.3" r="10.5"/>
<circle cx="575.5" cy="1202.3" r="10.5"/>
<circle cx="578.4" cy="960.9" r="10.5"/>
<circle cx="582.1" cy="925" r="10.5"/>
<circle cx="582.7" cy="919.1" r="10.5"/>
<circle cx="624.9" cy="905" r="10.5"/>
<circle cx="645.7" cy="1215.2" r="10.5"/>
<circle cx="649.1" cy="960.4" r="10.5"/>
<circle cx="652.3" cy="929.8" r="10.5"/>
<circle cx="669.8" cy="1190.5" r="10.5"/>
<circle cx="673.2" cy="942.1" r="10.5"/>
<circle cx="676.4" cy="930.4" r="10.5"/>
<circle cx="718.9" cy="926.4" r="10.5"/>
<circle cx="731.1" cy="1166.8" r="10.5"/>
<circle cx="736" cy="935" r="10.5"/>
<circle cx="738.5" cy="933" r="10.5"/>
<circle cx="747.7" cy="1128.8" r="10.5"/>
<circle cx="752.1" cy="935" r="10.5"/>
<circle cx="763.2" cy="1149.1" r="10.5"/>
<circle cx="766.5" cy="939" r="10.5"/>
<circle cx="769" cy="937.5" r="10.5"/>
<circle cx="780.4" cy="1143.2" r="10.5"/>
<circle cx="784" cy="940" r="10.5"/>
<circle cx="786.5" cy="938.5" r="10.5"/>
<circle cx="798" cy="1174.3" r="10.5"/>
<circle cx="801.4" cy="950" r="10.5"/>
<circle cx="803" cy="943.6" r="10.5"/>
<circle cx="813.6" cy="1162" r="10.5"/>
<circle cx="817.1" cy="952.9" r="10.5"/>
<circle cx="817.9" cy="948.6" r="10.5"/>
<circle cx="827" cy="1121.8" r="10.5"/>
<circle cx="831.4" cy="947.1" r="10.5"/>
</g>
<path d="M115 854.3 L156.4 976.4 L196.9 1092.1 L228.1 1139.3 L268.6 890.6 L289.5 894.6 L310.1 876.4 L351.3 1095 L353.7 1107.3 L361.4 1130.9 L392.7 882.9 L396.7 883.9 L421 878.3 L455.9 1058.8 L462.2 1094.7 L465.5 1110.3 L471.1 1127.7 L501.6 890.4 L505.4 888.8 L509.1 889.3 L542.9 1057.7 L549.3 1111.6 L552 1118.9 L553 1130.7 L562.3 911.6 L572 904.1 L577.3 910 L611.2 1161.3 L621.9 940.7 L624.9 911.5 L627 915.9 L628.8 896.9 L710.4 899.1 L736.4 1021.8 L749.3 1101.4 L753 1117 L756.8 1123.4 L767.1 918.4 L770.4 911.4 L774.1 902.3 L817.1 903.6 L857.9 902.4 L895.5 1165 L905.2 923.9 L908.9 918.6 L910.5 904.1 L993 899.8 L1027.1 1176.4 L1039.1 915.6 L1042.4 907 L1066.3 1063.6 L1069.6 1087.9 L1073.5 1111.1 L1076.4 1136.3 L1083.6 929 L1086.5 913 L1089 909.1 L1129.3 911.6 L1160.1 1189.8 L1174.1 927.7 L1201.9 1215.5 L1208.4 963 L1212.9 932.5 L1233.8 1202.7 L1243.4 956.1 L1246 927.9 L1263.1 1075.7 L1266.1 1101.9 L1273.4 949.7 L1276.6 938.1 L1277.7 940.3 L1295.3 1094.6 L1302.6 948.9 L1305.5 942.9 L1307.3 941.1 L1324.9 1108.7 L1331.5 955 L1336 940.7" fill="none" stroke="#6600E6" stroke-width="2.8" stroke-linejoin="round" stroke-linecap="round"/>
<g fill="#fff" stroke="#6600E6" stroke-width="3.0">
<rect x="106.3" y="845.6" width="17.4" height="17.4"/>
<rect x="147.7" y="967.7" width="17.4" height="17.4"/>
<rect x="188.2" y="1083.4" width="17.4" height="17.4"/>
<rect x="219.4" y="1130.6" width="17.4" height="17.4"/>
<rect x="259.9" y="881.9" width="17.4" height="17.4"/>
<rect x="280.8" y="885.9" width="17.4" height="17.4"/>
<rect x="301.4" y="867.7" width="17.4" height="17.4"/>
<rect x="342.6" y="1086.3" width="17.4" height="17.4"/>
<rect x="345" y="1098.6" width="17.4" height="17.4"/>
<rect x="352.7" y="1122.2" width="17.4" height="17.4"/>
<rect x="384" y="874.2" width="17.4" height="17.4"/>
<rect x="388" y="875.2" width="17.4" height="17.4"/>
<rect x="412.3" y="869.6" width="17.4" height="17.4"/>
<rect x="447.2" y="1050.1" width="17.4" height="17.4"/>
<rect x="453.5" y="1086" width="17.4" height="17.4"/>
<rect x="456.8" y="1101.6" width="17.4" height="17.4"/>
<rect x="462.4" y="1119" width="17.4" height="17.4"/>
<rect x="492.9" y="881.7" width="17.4" height="17.4"/>
<rect x="496.7" y="880.1" width="17.4" height="17.4"/>
<rect x="500.4" y="880.6" width="17.4" height="17.4"/>
<rect x="534.2" y="1049" width="17.4" height="17.4"/>
<rect x="540.6" y="1102.9" width="17.4" height="17.4"/>
<rect x="543.3" y="1110.2" width="17.4" height="17.4"/>
<rect x="544.3" y="1122" width="17.4" height="17.4"/>
<rect x="553.6" y="902.9" width="17.4" height="17.4"/>
<rect x="563.3" y="895.4" width="17.4" height="17.4"/>
<rect x="568.6" y="901.3" width="17.4" height="17.4"/>
<rect x="602.5" y="1152.6" width="17.4" height="17.4"/>
<rect x="613.2" y="932" width="17.4" height="17.4"/>
<rect x="616.2" y="902.8" width="17.4" height="17.4"/>
<rect x="618.3" y="907.2" width="17.4" height="17.4"/>
<rect x="620.1" y="888.2" width="17.4" height="17.4"/>
<rect x="701.7" y="890.4" width="17.4" height="17.4"/>
<rect x="727.7" y="1013.1" width="17.4" height="17.4"/>
<rect x="740.6" y="1092.7" width="17.4" height="17.4"/>
<rect x="744.3" y="1108.3" width="17.4" height="17.4"/>
<rect x="748.1" y="1114.7" width="17.4" height="17.4"/>
<rect x="758.4" y="909.7" width="17.4" height="17.4"/>
<rect x="761.7" y="902.7" width="17.4" height="17.4"/>
<rect x="765.4" y="893.6" width="17.4" height="17.4"/>
<rect x="808.4" y="894.9" width="17.4" height="17.4"/>
<rect x="849.2" y="893.7" width="17.4" height="17.4"/>
<rect x="886.8" y="1156.3" width="17.4" height="17.4"/>
<rect x="896.5" y="915.2" width="17.4" height="17.4"/>
<rect x="900.2" y="909.9" width="17.4" height="17.4"/>
<rect x="901.8" y="895.4" width="17.4" height="17.4"/>
<rect x="984.3" y="891.1" width="17.4" height="17.4"/>
<rect x="1018.4" y="1167.7" width="17.4" height="17.4"/>
<rect x="1030.4" y="906.9" width="17.4" height="17.4"/>
<rect x="1033.7" y="898.3" width="17.4" height="17.4"/>
<rect x="1057.6" y="1054.9" width="17.4" height="17.4"/>
<rect x="1060.9" y="1079.2" width="17.4" height="17.4"/>
<rect x="1064.8" y="1102.4" width="17.4" height="17.4"/>
<rect x="1067.7" y="1127.6" width="17.4" height="17.4"/>
<rect x="1074.9" y="920.3" width="17.4" height="17.4"/>
<rect x="1077.8" y="904.3" width="17.4" height="17.4"/>
<rect x="1080.3" y="900.4" width="17.4" height="17.4"/>
<rect x="1120.6" y="902.9" width="17.4" height="17.4"/>
<rect x="1151.4" y="1181.1" width="17.4" height="17.4"/>
<rect x="1165.4" y="919" width="17.4" height="17.4"/>
<rect x="1193.2" y="1206.8" width="17.4" height="17.4"/>
<rect x="1199.7" y="954.3" width="17.4" height="17.4"/>
<rect x="1204.2" y="923.8" width="17.4" height="17.4"/>
<rect x="1225.1" y="1194" width="17.4" height="17.4"/>
<rect x="1234.7" y="947.4" width="17.4" height="17.4"/>
<rect x="1237.3" y="919.2" width="17.4" height="17.4"/>
<rect x="1254.4" y="1067" width="17.4" height="17.4"/>
<rect x="1257.4" y="1093.2" width="17.4" height="17.4"/>
<rect x="1264.7" y="941" width="17.4" height="17.4"/>
<rect x="1267.9" y="929.4" width="17.4" height="17.4"/>
<rect x="1269" y="931.6" width="17.4" height="17.4"/>
<rect x="1286.6" y="1085.9" width="17.4" height="17.4"/>
<rect x="1293.9" y="940.2" width="17.4" height="17.4"/>
<rect x="1296.8" y="934.2" width="17.4" height="17.4"/>
<rect x="1298.6" y="932.4" width="17.4" height="17.4"/>
<rect x="1316.2" y="1100" width="17.4" height="17.4"/>
<rect x="1322.8" y="946.3" width="17.4" height="17.4"/>
<rect x="1327.3" y="932" width="17.4" height="17.4"/>
</g>
<g fill="#000">
<rect x="173.5" y="1081.45" width="8.8" height="2.9" rx="0.7"/>
<path d="M192.7 859.8h8.4v2.6h-8.4zM195.6 856.9h2.6v8.4h-2.6z"/>
<path d="M234.1 861.8h8.4v2.6h-8.4zM237 858.9h2.6v8.4h-2.6z"/>
<rect x="272" y="1120.65" width="8.8" height="2.9" rx="0.7"/>
<path d="M281 875.1h8.4v2.6h-8.4zM283.9 872.2h2.6v8.4h-2.6z"/>
<path d="M364 862.8h8.4v2.6h-8.4zM366.9 859.9h2.6v8.4h-2.6z"/>
<rect x="387.6" y="1113.35" width="8.8" height="2.9" rx="0.7"/>
<path d="M396.3 873.7h8.4v2.6h-8.4zM399.2 870.8h2.6v8.4h-2.6z"/>
<rect x="421.6" y="1098.95" width="8.8" height="2.9" rx="0.7"/>
<path d="M431 880h8.4v2.6h-8.4zM433.9 877.1h2.6v8.4h-2.6z"/>
<path d="M472.2 875.1h8.4v2.6h-8.4zM475.1 872.2h2.6v8.4h-2.6z"/>
<rect x="495.6" y="1135.65" width="8.8" height="2.9" rx="0.7"/>
<path d="M547.4 883h8.4v2.6h-8.4zM550.3 880.1h2.6v8.4h-2.6z"/>
<rect x="571.1" y="1200.85" width="8.8" height="2.9" rx="0.7"/>
<path d="M578.5 917.8h8.4v2.6h-8.4zM581.4 914.9h2.6v8.4h-2.6z"/>
<path d="M620.7 903.7h8.4v2.6h-8.4zM623.6 900.8h2.6v8.4h-2.6z"/>
<rect x="641.3" y="1213.75" width="8.8" height="2.9" rx="0.7"/>
<path d="M648.1 928.5h8.4v2.6h-8.4zM651 925.6h2.6v8.4h-2.6z"/>
<rect x="665.4" y="1189.05" width="8.8" height="2.9" rx="0.7"/>
<path d="M672.2 929.1h8.4v2.6h-8.4zM675.1 926.2h2.6v8.4h-2.6z"/>
<path d="M714.7 925.1h8.4v2.6h-8.4zM717.6 922.2h2.6v8.4h-2.6z"/>
<rect x="726.7" y="1165.35" width="8.8" height="2.9" rx="0.7"/>
<path d="M731.8 933.7h8.4v2.6h-8.4zM734.7 930.8h2.6v8.4h-2.6z"/>
<path d="M734.3 931.7h8.4v2.6h-8.4zM737.2 928.8h2.6v8.4h-2.6z"/>
<rect x="743.3" y="1127.35" width="8.8" height="2.9" rx="0.7"/>
<path d="M747.9 933.7h8.4v2.6h-8.4zM750.8 930.8h2.6v8.4h-2.6z"/>
<rect x="758.8" y="1147.65" width="8.8" height="2.9" rx="0.7"/>
<path d="M762.3 937.7h8.4v2.6h-8.4zM765.2 934.8h2.6v8.4h-2.6z"/>
<path d="M764.8 936.2h8.4v2.6h-8.4zM767.7 933.3h2.6v8.4h-2.6z"/>
<rect x="776" y="1141.75" width="8.8" height="2.9" rx="0.7"/>
<path d="M779.8 938.7h8.4v2.6h-8.4zM782.7 935.8h2.6v8.4h-2.6z"/>
<path d="M782.3 937.2h8.4v2.6h-8.4zM785.2 934.3h2.6v8.4h-2.6z"/>
<rect x="793.6" y="1172.85" width="8.8" height="2.9" rx="0.7"/>
<path d="M797.2 948.7h8.4v2.6h-8.4zM800.1 945.8h2.6v8.4h-2.6z"/>
<path d="M798.8 942.3h8.4v2.6h-8.4zM801.7 939.4h2.6v8.4h-2.6z"/>
<rect x="809.2" y="1160.55" width="8.8" height="2.9" rx="0.7"/>
<path d="M812.9 951.6h8.4v2.6h-8.4zM815.8 948.7h2.6v8.4h-2.6z"/>
<path d="M813.7 947.3h8.4v2.6h-8.4zM816.6 944.4h2.6v8.4h-2.6z"/>
<rect x="822.6" y="1120.35" width="8.8" height="2.9" rx="0.7"/>
<path d="M827.2 945.8h8.4v2.6h-8.4zM830.1 942.9h2.6v8.4h-2.6z"/>
<path d="M398.2 879.4h8.4v2.6h-8.4zM401.1 876.5h2.6v8.4h-2.6z"/>
<path d="M580.1 917.3h8.4v2.6h-8.4zM583 914.4h2.6v8.4h-2.6z"/>
<path d="M500.1 885.8h8.4v2.6h-8.4zM503 882.9h2.6v8.4h-2.6z"/>
<path d="M504.9 892.3h8.4v2.6h-8.4zM507.8 889.4h2.6v8.4h-2.6z"/>
<rect x="223.7" y="1137.85" width="8.8" height="2.9" rx="0.7"/>
<path d="M305.9 875.1h8.4v2.6h-8.4zM308.8 872.2h2.6v8.4h-2.6z"/>
<rect x="357" y="1129.45" width="8.8" height="2.9" rx="0.7"/>
<path d="M388.5 881.6h8.4v2.6h-8.4zM391.4 878.7h2.6v8.4h-2.6z"/>
<path d="M416.8 877h8.4v2.6h-8.4zM419.7 874.1h2.6v8.4h-2.6z"/>
<rect x="466.7" y="1126.25" width="8.8" height="2.9" rx="0.7"/>
<rect x="548.6" y="1129.25" width="8.8" height="2.9" rx="0.7"/>
<path d="M567.8 902.8h8.4v2.6h-8.4zM570.7 899.9h2.6v8.4h-2.6z"/>
<path d="M573.1 908.7h8.4v2.6h-8.4zM576 905.8h2.6v8.4h-2.6z"/>
<rect x="606.8" y="1159.85" width="8.8" height="2.9" rx="0.7"/>
<path d="M620.7 910.2h8.4v2.6h-8.4zM623.6 907.3h2.6v8.4h-2.6z"/>
<path d="M706.2 897.8h8.4v2.6h-8.4zM709.1 894.9h2.6v8.4h-2.6z"/>
<rect x="752.4" y="1121.95" width="8.8" height="2.9" rx="0.7"/>
<path d="M769.9 901h8.4v2.6h-8.4zM772.8 898.1h2.6v8.4h-2.6z"/>
<path d="M853.7 901.1h8.4v2.6h-8.4zM856.6 898.2h2.6v8.4h-2.6z"/>
<rect x="891.1" y="1163.55" width="8.8" height="2.9" rx="0.7"/>
<path d="M906.3 902.8h8.4v2.6h-8.4zM909.2 899.9h2.6v8.4h-2.6z"/>
<path d="M988.8 898.5h8.4v2.6h-8.4zM991.7 895.6h2.6v8.4h-2.6z"/>
<rect x="1022.7" y="1174.95" width="8.8" height="2.9" rx="0.7"/>
<path d="M1034.9 914.3h8.4v2.6h-8.4zM1037.8 911.4h2.6v8.4h-2.6z"/>
<path d="M1038.2 905.7h8.4v2.6h-8.4zM1041.1 902.8h2.6v8.4h-2.6z"/>
<rect x="1072" y="1134.85" width="8.8" height="2.9" rx="0.7"/>
<path d="M1084.8 907.8h8.4v2.6h-8.4zM1087.7 904.9h2.6v8.4h-2.6z"/>
<rect x="1155.7" y="1188.35" width="8.8" height="2.9" rx="0.7"/>
<path d="M1169.9 926.4h8.4v2.6h-8.4zM1172.8 923.5h2.6v8.4h-2.6z"/>
<rect x="1197.5" y="1214.05" width="8.8" height="2.9" rx="0.7"/>
<path d="M1208.7 931.2h8.4v2.6h-8.4zM1211.6 928.3h2.6v8.4h-2.6z"/>
<rect x="1229.4" y="1201.25" width="8.8" height="2.9" rx="0.7"/>
<path d="M1241.8 926.6h8.4v2.6h-8.4zM1244.7 923.7h2.6v8.4h-2.6z"/>
<rect x="1261.7" y="1100.45" width="8.8" height="2.9" rx="0.7"/>
<path d="M1273.5 939h8.4v2.6h-8.4zM1276.4 936.1h2.6v8.4h-2.6z"/>
<rect x="1290.9" y="1093.15" width="8.8" height="2.9" rx="0.7"/>
<path d="M1303.1 939.8h8.4v2.6h-8.4zM1306 936.9h2.6v8.4h-2.6z"/>
<rect x="1320.5" y="1107.25" width="8.8" height="2.9" rx="0.7"/>
<path d="M1331.8 939.4h8.4v2.6h-8.4zM1334.7 936.5h2.6v8.4h-2.6z"/>
</g>
<path d="M157.7 1290.9H252.3" stroke="#FF0000" stroke-width="3" fill="none"/>
<path d="M157.7 1348.6H252.3" stroke="#6600E6" stroke-width="3" fill="none"/>
<circle cx="205" cy="1290.9" r="17" fill="#FF0000"/>
<rect x="189.3" y="1332.9" width="31.4" height="31.4" fill="#fff" stroke="#6600E6" stroke-width="2.7"/>
<text class="sf" x="272.6" y="1307.3" font-size="50.6">S2</text>
<text class="sf" x="272.6" y="1364.5" font-size="50.6">C2</text>
<g class="sf" font-size="33" text-anchor="end">
<text x="104.1" y="1411.6">0.0</text>
<text x="104.1" y="1356.99">0.1</text>
<text x="104.1" y="1302.38">0.2</text>
<text x="104.1" y="1247.77">0.3</text>
<text x="104.1" y="1193.16">0.4</text>
<text x="104.1" y="1138.55">0.5</text>
<text x="104.1" y="1083.95">0.6</text>
<text x="104.1" y="1029.34">0.7</text>
<text x="104.1" y="974.73">0.8</text>
<text x="104.1" y="920.12">0.9</text>
<text x="104.1" y="865.51">1.0</text>
<text x="104.1" y="810.9">1.1</text>
</g>
<g class="sf" font-size="33" text-anchor="middle">
<text x="115.3" y="1443.8">0</text>
<text x="286.28" y="1443.8">100</text>
<text x="457.26" y="1443.8">200</text>
<text x="628.24" y="1443.8">300</text>
<text x="799.22" y="1443.8">400</text>
<text x="970.2" y="1443.8">500</text>
<text x="1141.18" y="1443.8">600</text>
<text x="1312.16" y="1443.8">700</text>
</g>
<text class="sf" x="295.3" y="1507.3" font-size="50.6">PID Test and PID Recovery Test Duration (h)</text>
<text class="sf" font-size="51.3" text-anchor="middle" transform="translate(41.7 1100.65) rotate(-90)">Normalized PCE</text>
<text class="ss" x="-1.8" y="804.8" font-size="33.4">(b)</text>
<path d="M132.4 1580V1589.6M132.4 2179.4V2169.8M149.5 1580V1589.6M149.5 2179.4V2169.8M166.59 1580V1589.6M166.59 2179.4V2169.8M183.69 1580V1589.6M183.69 2179.4V2169.8M200.79 1580V1594.1M200.79 2179.4V2165.3M217.89 1580V1589.6M217.89 2179.4V2169.8M234.99 1580V1589.6M234.99 2179.4V2169.8M252.08 1580V1589.6M252.08 2179.4V2169.8M269.18 1580V1589.6M269.18 2179.4V2169.8M286.28 1580V1599.3M286.28 2179.4V2160.1M303.38 1580V1589.6M303.38 2179.4V2169.8M320.48 1580V1589.6M320.48 2179.4V2169.8M337.57 1580V1589.6M337.57 2179.4V2169.8M354.67 1580V1589.6M354.67 2179.4V2169.8M371.77 1580V1594.1M371.77 2179.4V2165.3M388.87 1580V1589.6M388.87 2179.4V2169.8M405.97 1580V1589.6M405.97 2179.4V2169.8M423.06 1580V1589.6M423.06 2179.4V2169.8M440.16 1580V1589.6M440.16 2179.4V2169.8M457.26 1580V1599.3M457.26 2179.4V2160.1M474.36 1580V1589.6M474.36 2179.4V2169.8M491.46 1580V1589.6M491.46 2179.4V2169.8M508.55 1580V1589.6M508.55 2179.4V2169.8M525.65 1580V1589.6M525.65 2179.4V2169.8M542.75 1580V1594.1M542.75 2179.4V2165.3M559.85 1580V1589.6M559.85 2179.4V2169.8M576.95 1580V1589.6M576.95 2179.4V2169.8M594.04 1580V1589.6M594.04 2179.4V2169.8M611.14 1580V1589.6M611.14 2179.4V2169.8M628.24 1580V1599.3M628.24 2179.4V2160.1M645.34 1580V1589.6M645.34 2179.4V2169.8M662.44 1580V1589.6M662.44 2179.4V2169.8M679.53 1580V1589.6M679.53 2179.4V2169.8M696.63 1580V1589.6M696.63 2179.4V2169.8M713.73 1580V1594.1M713.73 2179.4V2165.3M730.83 1580V1589.6M730.83 2179.4V2169.8M747.93 1580V1589.6M747.93 2179.4V2169.8M765.02 1580V1589.6M765.02 2179.4V2169.8M782.12 1580V1589.6M782.12 2179.4V2169.8M799.22 1580V1599.3M799.22 2179.4V2160.1M816.32 1580V1589.6M816.32 2179.4V2169.8M833.42 1580V1589.6M833.42 2179.4V2169.8M850.51 1580V1589.6M850.51 2179.4V2169.8M867.61 1580V1589.6M867.61 2179.4V2169.8M884.71 1580V1594.1M884.71 2179.4V2165.3M901.81 1580V1589.6M901.81 2179.4V2169.8M918.91 1580V1589.6M918.91 2179.4V2169.8M936 1580V1589.6M936 2179.4V2169.8M953.1 1580V1589.6M953.1 2179.4V2169.8M970.2 1580V1599.3M970.2 2179.4V2160.1M987.3 1580V1589.6M987.3 2179.4V2169.8M1004.4 1580V1589.6M1004.4 2179.4V2169.8M1021.49 1580V1589.6M1021.49 2179.4V2169.8M1038.59 1580V1589.6M1038.59 2179.4V2169.8M1055.69 1580V1594.1M1055.69 2179.4V2165.3M1072.79 1580V1589.6M1072.79 2179.4V2169.8M1089.89 1580V1589.6M1089.89 2179.4V2169.8M1106.98 1580V1589.6M1106.98 2179.4V2169.8M1124.08 1580V1589.6M1124.08 2179.4V2169.8M1141.18 1580V1599.3M1141.18 2179.4V2160.1M1158.28 1580V1589.6M1158.28 2179.4V2169.8M1175.38 1580V1589.6M1175.38 2179.4V2169.8M1192.47 1580V1589.6M1192.47 2179.4V2169.8M1209.57 1580V1589.6M1209.57 2179.4V2169.8M1226.67 1580V1594.1M1226.67 2179.4V2165.3M1243.77 1580V1589.6M1243.77 2179.4V2169.8M1260.87 1580V1589.6M1260.87 2179.4V2169.8M1277.96 1580V1589.6M1277.96 2179.4V2169.8M1295.06 1580V1589.6M1295.06 2179.4V2169.8M1312.16 1580V1599.3M1312.16 2179.4V2160.1M1329.26 1580V1589.6M1329.26 2179.4V2169.8M1346.36 1580V1589.6M1346.36 2179.4V2169.8M1363.45 1580V1589.6M1363.45 2179.4V2169.8M1380.55 1580V1589.6M1380.55 2179.4V2169.8M115.3 2124.91H134.8M1398.5 2124.91H1379M115.3 2070.42H134.8M1398.5 2070.42H1379M115.3 2015.93H134.8M1398.5 2015.93H1379M115.3 1961.44H134.8M1398.5 1961.44H1379M115.3 1906.95H134.8M1398.5 1906.95H1379M115.3 1852.45H134.8M1398.5 1852.45H1379M115.3 1797.96H134.8M1398.5 1797.96H1379M115.3 1743.47H134.8M1398.5 1743.47H1379M115.3 1688.98H134.8M1398.5 1688.98H1379M115.3 1634.49H134.8M1398.5 1634.49H1379" stroke="#000" stroke-width="2.8" stroke-linecap="round" fill="none"/>
<rect x="115.3" y="1580" width="1283.2" height="599.4" fill="none" stroke="#000" stroke-width="2.8"/>
<path d="M115 1633.6 L149.4 1717.7 L156 1645 L159 1638 L163 1640.5 L190.1 1796.9 L194.9 1648.7 L200 1644.4 L201.7 1635.9 L219.3 1754.4 L226.9 1642.6 L237.1 1636.6 L244 1637.5 L253.6 1686 L257 1736 L262.9 1658.4 L267.6 1673.4 L268.9 1649 L309.8 1672.5 L324.1 1780 L331.8 1668 L415.9 1640.4 L432.4 1698.7 L433.4 1723.1 L439.4 1668.7 L442 1658.7 L456 1690 L457.6 1730 L463.7 1666.1 L462.9 1653.1 L489.6 1654.5 L503.3 1679.9 L509.3 1655.9 L512.7 1664.4 L553 1647.3 L570.1 1704.7 L574 1659.6 L577 1625.7 L618.2 1650.4 L628.9 1668.6 L631.1 1678.2 L639.6 1664.3 L657.9 1744.2 L663.2 1664.3 L705.5 1664.8 L722.3 1750.2 L725.7 1666.1 L729.5 1672.5 L746.1 1768.4 L751.4 1674.1 L792.7 1672.8 L808.2 1782.9 L812.6 1670.9 L825 1895.4 L829.4 1682.5 L840.9 1873.1 L844.5 1689.5" fill="none" stroke="#FFA500" stroke-width="2.8" stroke-linejoin="round" stroke-linecap="round"/>
<g fill="#FFA500">
<circle cx="115" cy="1633.6" r="10.5"/>
<circle cx="149.4" cy="1717.7" r="10.5"/>
<circle cx="156" cy="1645" r="10.5"/>
<circle cx="159" cy="1638" r="10.5"/>
<circle cx="163" cy="1640.5" r="10.5"/>
<circle cx="190.1" cy="1796.9" r="10.5"/>
<circle cx="194.9" cy="1648.7" r="10.5"/>
<circle cx="200" cy="1644.4" r="10.5"/>
<circle cx="201.7" cy="1635.9" r="10.5"/>
<circle cx="219.3" cy="1754.4" r="10.5"/>
<circle cx="226.9" cy="1642.6" r="10.5"/>
<circle cx="237.1" cy="1636.6" r="10.5"/>
<circle cx="244" cy="1637.5" r="10.5"/>
<circle cx="253.6" cy="1686" r="10.5"/>
<circle cx="257" cy="1736" r="10.5"/>
<circle cx="262.9" cy="1658.4" r="10.5"/>
<circle cx="267.6" cy="1673.4" r="10.5"/>
<circle cx="268.9" cy="1649" r="10.5"/>
<circle cx="309.8" cy="1672.5" r="10.5"/>
<circle cx="324.1" cy="1780" r="10.5"/>
<circle cx="331.8" cy="1668" r="10.5"/>
<circle cx="415.9" cy="1640.4" r="10.5"/>
<circle cx="432.4" cy="1698.7" r="10.5"/>
<circle cx="433.4" cy="1723.1" r="10.5"/>
<circle cx="439.4" cy="1668.7" r="10.5"/>
<circle cx="442" cy="1658.7" r="10.5"/>
<circle cx="456" cy="1690" r="10.5"/>
<circle cx="457.6" cy="1730" r="10.5"/>
<circle cx="463.7" cy="1666.1" r="10.5"/>
<circle cx="462.9" cy="1653.1" r="10.5"/>
<circle cx="489.6" cy="1654.5" r="10.5"/>
<circle cx="503.3" cy="1679.9" r="10.5"/>
<circle cx="509.3" cy="1655.9" r="10.5"/>
<circle cx="512.7" cy="1664.4" r="10.5"/>
<circle cx="553" cy="1647.3" r="10.5"/>
<circle cx="570.1" cy="1704.7" r="10.5"/>
<circle cx="574" cy="1659.6" r="10.5"/>
<circle cx="577" cy="1625.7" r="10.5"/>
<circle cx="618.2" cy="1650.4" r="10.5"/>
<circle cx="628.9" cy="1668.6" r="10.5"/>
<circle cx="631.1" cy="1678.2" r="10.5"/>
<circle cx="639.6" cy="1664.3" r="10.5"/>
<circle cx="657.9" cy="1744.2" r="10.5"/>
<circle cx="663.2" cy="1664.3" r="10.5"/>
<circle cx="705.5" cy="1664.8" r="10.5"/>
<circle cx="722.3" cy="1750.2" r="10.5"/>
<circle cx="725.7" cy="1666.1" r="10.5"/>
<circle cx="729.5" cy="1672.5" r="10.5"/>
<circle cx="746.1" cy="1768.4" r="10.5"/>
<circle cx="751.4" cy="1674.1" r="10.5"/>
<circle cx="792.7" cy="1672.8" r="10.5"/>
<circle cx="808.2" cy="1782.9" r="10.5"/>
<circle cx="812.6" cy="1670.9" r="10.5"/>
<circle cx="825" cy="1895.4" r="10.5"/>
<circle cx="829.4" cy="1682.5" r="10.5"/>
<circle cx="840.9" cy="1873.1" r="10.5"/>
<circle cx="844.5" cy="1689.5" r="10.5"/>
</g>
<path d="M115 1633.6 L156.1 1676.4 L167.9 1704.4 L175 1719 L192 1723.8 L198.3 1727.6 L205.6 1746.7 L214.1 1670.6 L216.3 1668 L236 1667 L242.5 1653.5 L282.6 1656.7 L323.8 1743.8 L332.9 1661.8 L335.5 1658.6 L362.9 1808 L372.5 1665 L376.8 1679.5 L404 1913.1 L413.2 1690.7 L417.5 1687.5 L459 1684.4 L482.9 1938.3 L487.7 1701.3 L491.3 1695.9 L573.1 1695.6 L590.4 1918.5 L594.6 1710.4 L602.7 1701.8 L619.5 1903.3 L623 1700.5 L628.4 1700.2 L671.3 1700.2 L685.1 1848.7 L689 1706 L692.1 1705.5 L733.8 1702 L744.5 1808 L748 1706 L750.4 1704.6 L789.3 1698.9 L800.7 1711.1 L804.7 1738.9 L811.9 1699.4 L827 1781.3 L830.4 1705.7 L832.7 1701.7 L873.6 1701 L886.3 1776 L890.8 1703.4 L903.9 1763.1 L907.1 1704.3 L918.9 1775.1 L923.8 1702.4 L936.4 1952.9 L941.4 1705.2" fill="none" stroke="#000000" stroke-width="2.8" stroke-linejoin="round" stroke-linecap="round"/>
<g fill="#fff" stroke="#000000" stroke-width="3.0">
<rect x="106.3" y="1624.9" width="17.4" height="17.4"/>
<rect x="147.4" y="1667.7" width="17.4" height="17.4"/>
<rect x="159.2" y="1695.7" width="17.4" height="17.4"/>
<rect x="166.3" y="1710.3" width="17.4" height="17.4"/>
<rect x="183.3" y="1715.1" width="17.4" height="17.4"/>
<rect x="189.6" y="1718.9" width="17.4" height="17.4"/>
<rect x="196.9" y="1738" width="17.4" height="17.4"/>
<rect x="205.4" y="1661.9" width="17.4" height="17.4"/>
<rect x="207.6" y="1659.3" width="17.4" height="17.4"/>
<rect x="227.3" y="1658.3" width="17.4" height="17.4"/>
<rect x="233.8" y="1644.8" width="17.4" height="17.4"/>
<rect x="273.9" y="1648" width="17.4" height="17.4"/>
<rect x="315.1" y="1735.1" width="17.4" height="17.4"/>
<rect x="324.2" y="1653.1" width="17.4" height="17.4"/>
<rect x="326.8" y="1649.9" width="17.4" height="17.4"/>
<rect x="354.2" y="1799.3" width="17.4" height="17.4"/>
<rect x="363.8" y="1656.3" width="17.4" height="17.4"/>
<rect x="368.1" y="1670.8" width="17.4" height="17.4"/>
<rect x="395.3" y="1904.4" width="17.4" height="17.4"/>
<rect x="404.5" y="1682" width="17.4" height="17.4"/>
<rect x="408.8" y="1678.8" width="17.4" height="17.4"/>
<rect x="450.3" y="1675.7" width="17.4" height="17.4"/>
<rect x="474.2" y="1929.6" width="17.4" height="17.4"/>
<rect x="479" y="1692.6" width="17.4" height="17.4"/>
<rect x="482.6" y="1687.2" width="17.4" height="17.4"/>
<rect x="564.4" y="1686.9" width="17.4" height="17.4"/>
<rect x="581.7" y="1909.8" width="17.4" height="17.4"/>
<rect x="585.9" y="1701.7" width="17.4" height="17.4"/>
<rect x="594" y="1693.1" width="17.4" height="17.4"/>
<rect x="610.8" y="1894.6" width="17.4" height="17.4"/>
<rect x="614.3" y="1691.8" width="17.4" height="17.4"/>
<rect x="619.7" y="1691.5" width="17.4" height="17.4"/>
<rect x="662.6" y="1691.5" width="17.4" height="17.4"/>
<rect x="676.4" y="1840" width="17.4" height="17.4"/>
<rect x="680.3" y="1697.3" width="17.4" height="17.4"/>
<rect x="683.4" y="1696.8" width="17.4" height="17.4"/>
<rect x="725.1" y="1693.3" width="17.4" height="17.4"/>
<rect x="735.8" y="1799.3" width="17.4" height="17.4"/>
<rect x="739.3" y="1697.3" width="17.4" height="17.4"/>
<rect x="741.7" y="1695.9" width="17.4" height="17.4"/>
<rect x="780.6" y="1690.2" width="17.4" height="17.4"/>
<rect x="792" y="1702.4" width="17.4" height="17.4"/>
<rect x="796" y="1730.2" width="17.4" height="17.4"/>
<rect x="803.2" y="1690.7" width="17.4" height="17.4"/>
<rect x="818.3" y="1772.6" width="17.4" height="17.4"/>
<rect x="821.7" y="1697" width="17.4" height="17.4"/>
<rect x="824" y="1693" width="17.4" height="17.4"/>
<rect x="864.9" y="1692.3" width="17.4" height="17.4"/>
<rect x="877.6" y="1767.3" width="17.4" height="17.4"/>
<rect x="882.1" y="1694.7" width="17.4" height="17.4"/>
<rect x="895.2" y="1754.4" width="17.4" height="17.4"/>
<rect x="898.4" y="1695.6" width="17.4" height="17.4"/>
<rect x="910.2" y="1766.4" width="17.4" height="17.4"/>
<rect x="915.1" y="1693.7" width="17.4" height="17.4"/>
<rect x="927.7" y="1944.2" width="17.4" height="17.4"/>
<rect x="932.7" y="1696.5" width="17.4" height="17.4"/>
</g>
<g fill="#000">
<rect x="145" y="1716.25" width="8.8" height="2.9" rx="0.7"/>
<path d="M154.8 1636.7h8.4v2.6h-8.4zM157.7 1633.8h2.6v8.4h-2.6z"/>
<path d="M158.8 1639.2h8.4v2.6h-8.4zM161.7 1636.3h2.6v8.4h-2.6z"/>
<rect x="185.7" y="1795.45" width="8.8" height="2.9" rx="0.7"/>
<path d="M195.8 1643.1h8.4v2.6h-8.4zM198.7 1640.2h2.6v8.4h-2.6z"/>
<path d="M197.5 1634.6h8.4v2.6h-8.4zM200.4 1631.7h2.6v8.4h-2.6z"/>
<rect x="214.9" y="1752.95" width="8.8" height="2.9" rx="0.7"/>
<path d="M232.9 1635.3h8.4v2.6h-8.4zM235.8 1632.4h2.6v8.4h-2.6z"/>
<rect x="252.6" y="1734.55" width="8.8" height="2.9" rx="0.7"/>
<path d="M264.7 1647.7h8.4v2.6h-8.4zM267.6 1644.8h2.6v8.4h-2.6z"/>
<path d="M305.6 1671.2h8.4v2.6h-8.4zM308.5 1668.3h2.6v8.4h-2.6z"/>
<rect x="319.7" y="1778.55" width="8.8" height="2.9" rx="0.7"/>
<path d="M411.7 1639.1h8.4v2.6h-8.4zM414.6 1636.2h2.6v8.4h-2.6z"/>
<rect x="429" y="1721.65" width="8.8" height="2.9" rx="0.7"/>
<path d="M437.8 1657.4h8.4v2.6h-8.4zM440.7 1654.5h2.6v8.4h-2.6z"/>
<rect x="453.2" y="1728.55" width="8.8" height="2.9" rx="0.7"/>
<path d="M572.8 1624.4h8.4v2.6h-8.4zM575.7 1621.5h2.6v8.4h-2.6z"/>
<path d="M614 1649.1h8.4v2.6h-8.4zM616.9 1646.2h2.6v8.4h-2.6z"/>
<path d="M635.4 1663h8.4v2.6h-8.4zM638.3 1660.1h2.6v8.4h-2.6z"/>
<rect x="653.5" y="1742.75" width="8.8" height="2.9" rx="0.7"/>
<path d="M659 1663h8.4v2.6h-8.4zM661.9 1660.1h2.6v8.4h-2.6z"/>
<path d="M701.3 1663.5h8.4v2.6h-8.4zM704.2 1660.6h2.6v8.4h-2.6z"/>
<rect x="717.9" y="1748.75" width="8.8" height="2.9" rx="0.7"/>
<path d="M725.3 1671.2h8.4v2.6h-8.4zM728.2 1668.3h2.6v8.4h-2.6z"/>
<rect x="741.7" y="1766.95" width="8.8" height="2.9" rx="0.7"/>
<path d="M747.2 1672.8h8.4v2.6h-8.4zM750.1 1669.9h2.6v8.4h-2.6z"/>
<path d="M788.5 1671.5h8.4v2.6h-8.4zM791.4 1668.6h2.6v8.4h-2.6z"/>
<rect x="803.8" y="1781.45" width="8.8" height="2.9" rx="0.7"/>
<path d="M808.4 1669.6h8.4v2.6h-8.4zM811.3 1666.7h2.6v8.4h-2.6z"/>
<rect x="820.6" y="1893.95" width="8.8" height="2.9" rx="0.7"/>
<path d="M825.2 1681.2h8.4v2.6h-8.4zM828.1 1678.3h2.6v8.4h-2.6z"/>
<rect x="836.5" y="1871.65" width="8.8" height="2.9" rx="0.7"/>
<path d="M840.3 1688.2h8.4v2.6h-8.4zM843.2 1685.3h2.6v8.4h-2.6z"/>
<path d="M239.4 1642.2h8.4v2.6h-8.4zM242.3 1639.3h2.6v8.4h-2.6z"/>
<path d="M683.8 1705.7h8.4v2.6h-8.4zM686.7 1702.8h2.6v8.4h-2.6z"/>
<rect x="201.2" y="1745.25" width="8.8" height="2.9" rx="0.7"/>
<path d="M238.3 1652.2h8.4v2.6h-8.4zM241.2 1649.3h2.6v8.4h-2.6z"/>
<path d="M278.4 1655.4h8.4v2.6h-8.4zM281.3 1652.5h2.6v8.4h-2.6z"/>
<rect x="319.4" y="1742.35" width="8.8" height="2.9" rx="0.7"/>
<path d="M331.3 1657.3h8.4v2.6h-8.4zM334.2 1654.4h2.6v8.4h-2.6z"/>
<rect x="358.5" y="1806.55" width="8.8" height="2.9" rx="0.7"/>
<path d="M372.6 1678.2h8.4v2.6h-8.4zM375.5 1675.3h2.6v8.4h-2.6z"/>
<rect x="399.6" y="1911.65" width="8.8" height="2.9" rx="0.7"/>
<path d="M413.3 1686.2h8.4v2.6h-8.4zM416.2 1683.3h2.6v8.4h-2.6z"/>
<path d="M454.8 1683.1h8.4v2.6h-8.4zM457.7 1680.2h2.6v8.4h-2.6z"/>
<rect x="478.5" y="1936.85" width="8.8" height="2.9" rx="0.7"/>
<path d="M487.1 1694.6h8.4v2.6h-8.4zM490 1691.7h2.6v8.4h-2.6z"/>
<path d="M568.9 1694.3h8.4v2.6h-8.4zM571.8 1691.4h2.6v8.4h-2.6z"/>
<rect x="586" y="1917.05" width="8.8" height="2.9" rx="0.7"/>
<path d="M598.5 1700.5h8.4v2.6h-8.4zM601.4 1697.6h2.6v8.4h-2.6z"/>
<rect x="615.1" y="1901.85" width="8.8" height="2.9" rx="0.7"/>
<path d="M624.2 1698.9h8.4v2.6h-8.4zM627.1 1696h2.6v8.4h-2.6z"/>
<path d="M667.1 1698.9h8.4v2.6h-8.4zM670 1696h2.6v8.4h-2.6z"/>
<rect x="680.7" y="1847.25" width="8.8" height="2.9" rx="0.7"/>
<path d="M729.6 1700.7h8.4v2.6h-8.4zM732.5 1697.8h2.6v8.4h-2.6z"/>
<rect x="740.1" y="1806.55" width="8.8" height="2.9" rx="0.7"/>
<path d="M746.2 1703.3h8.4v2.6h-8.4zM749.1 1700.4h2.6v8.4h-2.6z"/>
<path d="M800.5 1737.6h8.4v2.6h-8.4zM803.4 1734.7h2.6v8.4h-2.6z"/>
<path d="M807.7 1698.1h8.4v2.6h-8.4zM810.6 1695.2h2.6v8.4h-2.6z"/>
<rect x="822.6" y="1779.85" width="8.8" height="2.9" rx="0.7"/>
<path d="M826.2 1704.4h8.4v2.6h-8.4zM829.1 1701.5h2.6v8.4h-2.6z"/>
<path d="M828.5 1700.4h8.4v2.6h-8.4zM831.4 1697.5h2.6v8.4h-2.6z"/>
<path d="M869.4 1699.7h8.4v2.6h-8.4zM872.3 1696.8h2.6v8.4h-2.6z"/>
<rect x="881.9" y="1774.55" width="8.8" height="2.9" rx="0.7"/>
<path d="M886.6 1702.1h8.4v2.6h-8.4zM889.5 1699.2h2.6v8.4h-2.6z"/>
<rect x="899.5" y="1761.65" width="8.8" height="2.9" rx="0.7"/>
<path d="M902.9 1703h8.4v2.6h-8.4zM905.8 1700.1h2.6v8.4h-2.6z"/>
<rect x="914.5" y="1773.65" width="8.8" height="2.9" rx="0.7"/>
<path d="M919.6 1701.1h8.4v2.6h-8.4zM922.5 1698.2h2.6v8.4h-2.6z"/>
<rect x="932" y="1951.45" width="8.8" height="2.9" rx="0.7"/>
<path d="M937.2 1703.9h8.4v2.6h-8.4zM940.1 1701h2.6v8.4h-2.6z"/>
</g>
<path d="M157.7 2076.6H252.3" stroke="#FFA500" stroke-width="3" fill="none"/>
<path d="M157.7 2134H252.3" stroke="#000000" stroke-width="3" fill="none"/>
<circle cx="205" cy="2076.6" r="17" fill="#FFA500"/>
<rect x="189.3" y="2118.3" width="31.4" height="31.4" fill="#fff" stroke="#000000" stroke-width="2.7"/>
<text class="sf" x="272.6" y="2091.8" font-size="50.6">S3</text>
<text class="sf" x="272.6" y="2149.8" font-size="50.6">C3</text>
<g class="sf" font-size="33" text-anchor="end">
<text x="104.1" y="2190">0.0</text>
<text x="104.1" y="2135.51">0.1</text>
<text x="104.1" y="2081.02">0.2</text>
<text x="104.1" y="2026.53">0.3</text>
<text x="104.1" y="1972.04">0.4</text>
<text x="104.1" y="1917.55">0.5</text>
<text x="104.1" y="1863.05">0.6</text>
<text x="104.1" y="1808.56">0.7</text>
<text x="104.1" y="1754.07">0.8</text>
<text x="104.1" y="1699.58">0.9</text>
<text x="104.1" y="1645.09">1.0</text>
<text x="104.1" y="1590.6">1.1</text>
</g>
<g class="sf" font-size="33" text-anchor="middle">
<text x="115.3" y="2222.2">0</text>
<text x="286.28" y="2222.2">100</text>
<text x="457.26" y="2222.2">200</text>
<text x="628.24" y="2222.2">300</text>
<text x="799.22" y="2222.2">400</text>
<text x="970.2" y="2222.2">500</text>
<text x="1141.18" y="2222.2">600</text>
<text x="1312.16" y="2222.2">700</text>
</g>
<text class="sf" x="295.3" y="2285.7" font-size="50.6">PID Test and PID Recovery Test Duration (h)</text>
<text class="sf" font-size="51.3" text-anchor="middle" transform="translate(41.7 1879.7) rotate(-90)">Normalized PCE</text>
<text class="ss" x="-2.6" y="1580.3" font-size="33.4">(c)</text>
</svg></body></html>
